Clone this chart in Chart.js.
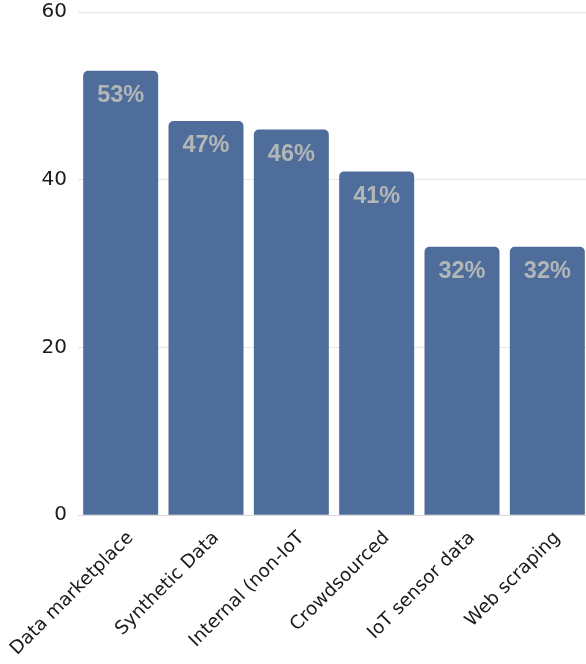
<!DOCTYPE html>
<html>
<head>
<meta charset="utf-8">
<script src="https://cdn.jsdelivr.net/npm/chart.js@4"></script>
<style>
  html, body { margin: 0; padding: 0; background: #fff; overflow: hidden; }
  #wrap { width: 586px; height: 664px; overflow: hidden; }
</style>
</head>
<body>
<div id="wrap"><canvas id="sourceChart" width="592" height="664"></canvas></div>
<script>
// Data sources share (%)
const categories = ['Data marketplace', 'Synthetic Data', 'Internal (non-IoT', 'Crowdsourced', 'IoT sensor data', 'Web scraping'];
const shares = [53, 47, 46, 41, 32, 32];
const yTicks = [0, 20, 40, 60];

// Draw the percent labels inside the top of each bar
const barLabels = {
    id: 'barLabels',
    afterDatasetsDraw(chart) {
        const ctx = chart.ctx;
        const meta = chart.getDatasetMeta(0);
        ctx.save();
        ctx.font = 'bold 23.5px "Liberation Sans", Arial, sans-serif';
        ctx.fillStyle = '#b3b6b6';
        ctx.textAlign = 'center';
        ctx.textBaseline = 'top';
        meta.data.forEach((bar, i) => {
            ctx.fillText(shares[i] + '%', bar.x, bar.y + 13);
        });
        ctx.restore();
    }
};

const ctx = document.getElementById('sourceChart').getContext('2d');
const chart = new Chart(ctx, {
    type: 'bar',
    data: {
        labels: categories,
        datasets: [{
            data: shares,
            backgroundColor: '#4f6d9a',
            borderRadius: { topLeft: 5, topRight: 5 },
            borderSkipped: 'bottom',
            barPercentage: 0.879,
            categoryPercentage: 1.0
        }]
    },
    options: {
        responsive: false,
        animation: false,
        layout: { padding: { left: 0, right: 2, top: 12, bottom: 0 } },
        plugins: {
            legend: { display: false },
            tooltip: { enabled: false }
        },
        scales: {
            x: {
                grid: { display: false },
                border: { color: '#d9d9d9', width: 1 },
                afterFit(scale) {
                    // rotated labels may overflow left, like the original
                    scale.paddingLeft = 0;
                    scale.paddingRight = 0;
                },
                ticks: {
                    color: '#1a1a1a',
                    font: { family: '"DejaVu Sans", sans-serif', size: 18.5 },
                    minRotation: 45,
                    maxRotation: 45,
                    padding: 4,
                    labelOffset: 10
                }
            },
            y: {
                min: yTicks[0],
                max: yTicks[yTicks.length - 1],
                grid: { color: '#e6e6e6', drawTicks: false },
                border: { display: false },
                afterBuildTicks(scale) {
                    scale.ticks = yTicks.map(v => ({ value: v }));
                },
                afterFit(scale) {
                    scale.width = 78;
                    scale.paddingTop = 0;
                    scale.paddingBottom = 0;
                },
                ticks: {
                    color: '#1a1a1a',
                    font: { family: '"DejaVu Sans", sans-serif', size: 20 },
                    padding: 11
                }
            }
        }
    },
    plugins: [barLabels]
});
</script>
</body>
</html>
